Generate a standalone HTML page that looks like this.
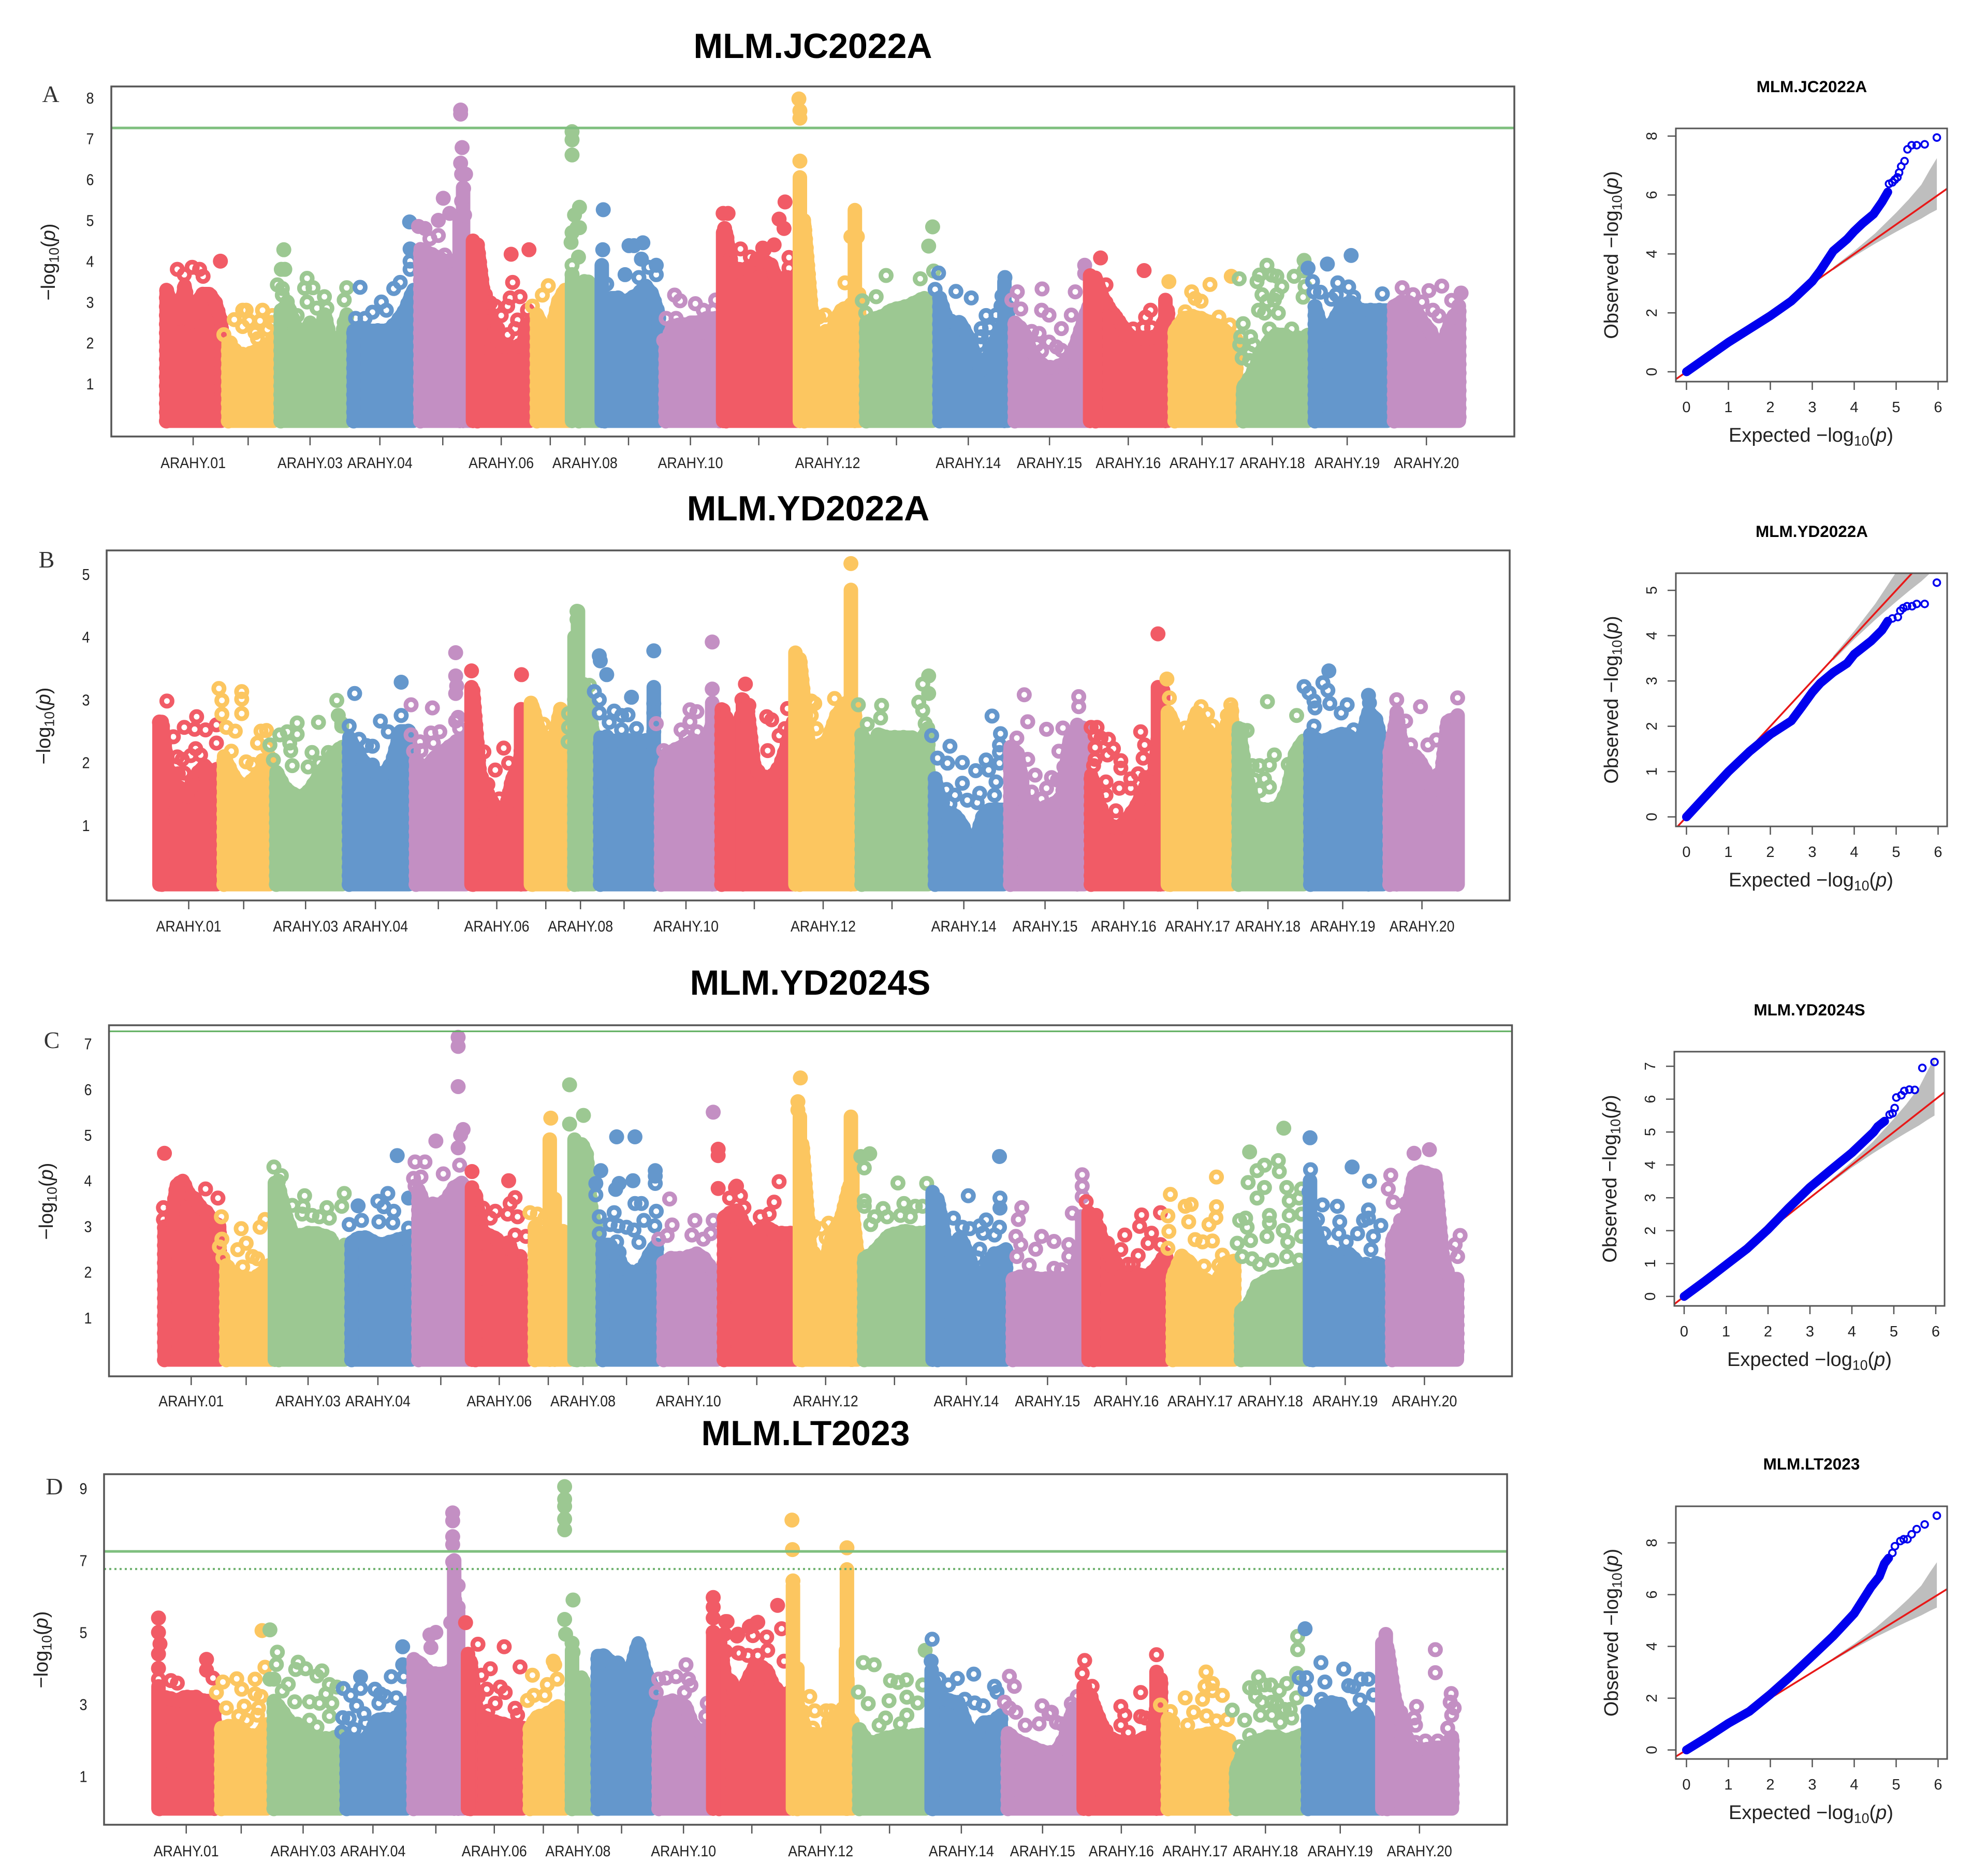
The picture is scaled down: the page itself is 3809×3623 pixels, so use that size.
<!DOCTYPE html>
<html lang="en">
<head>
<meta charset="utf-8">
<title>GWAS Manhattan and QQ plots</title>
<style>
html,body{margin:0;padding:0;background:#fff;}
svg{display:block;}
text{font-family:"Liberation Sans",sans-serif;}
</style>
</head>
<body>
<svg id="figure" xmlns="http://www.w3.org/2000/svg" width="3809" height="3623" viewBox="0 0 3809 3623"></svg>
<script>
/* ---------- shared genome data ---------- */
const chromLabels = ["ARAHY.01","","ARAHY.03","ARAHY.04","","ARAHY.06","","ARAHY.08","","ARAHY.10","","ARAHY.12","","ARAHY.14","ARAHY.15","ARAHY.16","ARAHY.17","ARAHY.18","ARAHY.19","ARAHY.20"];
const chromStartMb = [322,447,553,700,835,950,1070,1155,1207,1330,1452,1610,1735,1883,2035,2198,2358,2496,2641,2801];
const genomeEndMb = 2960;
const chromTickMb = [390,501,626,767,894,1012,1111,1181,1269,1394,1532,1671,1810,1955,2119,2278,2427,2569,2720,2880];
const secondHalfStartMb = 1463;
const chromColors = ["#F15B66","#FCC660","#9CC892","#6497CC","#C38FC3"];

/* ---------- MLM.JC2022A ---------- */
const jcSkyline = [
[3.3,2.9,2.6,3.4,2.5,3.0,3.2,3.2,3.0,2.5],[2.0,1.75,1.7,1.8,1.9,2.1],[2.8,2.9,2.4,1.9,2.5,2.1,2.7,1.9,1.9,2.7],[2.3,2.3,2.3,2.3,2.3,2.5,2.8,3.3],[4.3,4.2,4.1,4.0,4.0,4.1,4.4],
[4.4,3.1,2.7,2.1,1.9,1.9,1.9,2.0,2.5],[2.7,2.3,2.2,3.0,3.3,2.9],[3.2,3.5,3.5,3.2,2.8],[2.9,3.1,3.1,3.0,3.1,3.2,3.4,3.2,2.7],[1.9,2.4,2.45,2.45,2.5,2.5,2.6,2.6,2.6],
[4.7,3.7,3.8,3.8,3.9,4.0,4.0,3.9,3.4,3.6,3.6,3.6],[4.9,2.2,2.2,2.3,2.8,2.9,3.2],[2.5,2.6,2.65,2.8,2.85,2.9,3.0,3.1,3.0],[3.1,2.6,2.5,2.5,2.2,1.8,1.3,1.6,2.0,2.3,2.9],[2.5,2.3,1.8,1.5,1.4,1.4,1.5,1.7,2.3,2.9],
[3.6,3.0,2.7,2.4,2.1,2.1,2.1,2.2,2.8],[2.3,2.6,2.65,2.6,2.5,2.4,2.25,2.1],[0.9,1.2,1.6,2.0,2.2,2.2,2.1,2.0,2.2],[2.9,2.2,2.5,2.9,3.0,2.8,2.8,2.8,2.8],[2.9,3.0,3.0,2.8,2.5,2.3,1.9,2.1,2.6,2.8]];
const jcRings = [
[[358,3.8],[388,3.85],[403,3.8],[372,3.67],[410,3.63]],
[[490,2.8],[497,2.8],[530,2.8],[473,2.57],[503,2.54],[525,2.54],[550,2.67],[548,2.5],[490,2.4],[540,2.33],[515,2.25],[520,2.1],[452,2.2],[465,2.0]],
[[560,3.42],[570,3.33],[620,3.58],[615,3.34],[632,3.35],[700,3.35],[655,3.13],[620,3.0],[695,3.05],[570,3.17],[600,2.67],[630,2.33],[650,2.06],[680,2.1],[695,2.5],[580,3.0],[660,2.85],[640,2.85]],
[[727,3.36],[718,2.6],[737,2.6],[752,2.75],[770,3.0],[780,2.8],[795,3.33],[808,3.48],[828,3.8],[828,4.0]],
[[885,4.63],[868,4.55],[898,4.15]],
[[980,3.18],[990,2.98],[1000,2.9],[1012,2.67],[990,2.52],[1035,3.48],[1030,3.1],[1050,3.13],[1025,2.9],[1045,2.56],[1065,2.8],[1040,2.35],[1005,2.35],[1025,2.2]],
[[1095,3.17],[1107,3.4],[1075,2.9]],
[[1155,3.9],[1155,3.67],[1195,3.1]],
[[1290,3.6],[1310,3.85],[1325,3.67],[1225,3.44]],
[[1362,3.17],[1373,3.03],[1404,2.96],[1420,2.8],[1440,2.8],[1445,3.05],[1345,2.6],[1365,2.6],[1340,2.06],[1350,2.0],[1435,1.7],[1420,1.9]],
[[1475,4.05],[1495,4.3],[1515,4.1],[1540,4.32],[1593,4.09],[1593,3.83],[1528,4.05]],
[[190,2.63],[203,2.68],[205,2.28],[225,2.53],[243,3.47],[205,2.15]],
[[326,3.65],[395,3.57],[306,3.13],[278,3.03],[422,3.76],[285,2.73]],
[[432,3.71],[425,3.31],[467,3.26],[498,3.1],[566,3.6],[560,3.15],[558,2.9],[528,2.67],[548,2.68],[518,2.35],[535,2.38],[560,2.38],[518,2.15],[533,2.12],[515,1.95]],
[[591,3.25],[641,3.32],[708,3.25],[580,3.05],[598,2.83],[640,2.8],[655,2.68],[700,2.68],[680,2.35],[620,2.28],[635,2.23],[630,1.95],[655,2.02],[640,1.8],[670,1.9],[680,1.82]],
[[770,3.42],[770,2.99],[790,2.63],[860,2.8],[850,2.63],[825,2.34],[845,2.37],[862,2.37],[810,2.2]],
[[980,3.43],[943,3.25],[950,3.09],[962,3.02],[930,2.76],[1020,2.44],[998,2.63]],
[[1039,3.57],[1095,3.9],[1080,3.66],[1105,3.66],[1115,3.63],[1150,3.63],[1170,3.76],[1075,3.5],[1125,3.38],[1172,3.38],[1085,3.18],[1115,3.18],[1095,3.02],[1110,3.05],[1168,3.12],[1078,2.8],[1090,2.73],[1118,2.73],[1047,2.47],[1042,2.15],[1062,2.15],[1040,1.95],[1060,1.75],[1068,1.95],[1100,2.34],[1145,2.34],[1158,2.12],[1045,1.63],[1060,1.57]],
[[1238,3.47],[1260,3.37],[1187,3.5],[1190,3.25],[1203,3.24],[1328,3.2],[1225,3.07],[1270,3.12],[1235,3.18]],
[[1368,3.35],[1390,3.18],[1422,3.28],[1448,3.39],[1468,3.04],[1482,2.9],[1408,3.0],[1430,2.8],[1442,2.66],[1475,2.52]]];
const jcDots = [[0,445,4.0],[2,573,4.28],[2,568,3.8],[2,575,3.8],[3,827,4.96],[3,828,4.3],[4,930,7.7],[4,930,7.6],[4,933,6.78],[4,930,6.4],[4,932,6.13],[4,940,6.13],[4,936,5.78],[4,932,5.47],[4,895,5.54],[4,885,5.0],[4,908,5.17],[4,938,5.13],[4,845,4.85],[4,858,4.8],[5,1032,4.17],[5,1068,4.28],[7,1155,7.17],[7,1155,6.97],[7,1155,6.6],[7,1170,5.32],[7,1160,5.13],[7,1165,4.82],[7,1170,4.82],[7,1155,4.7],[7,1153,4.46],[7,1168,4.1],[8,1218,5.26],[8,1217,4.28],[8,1270,4.38],[8,1280,4.38],[8,1298,4.45],[8,1295,4.05],[8,1262,3.67],[8,1325,3.9],[10,1460,5.17],[10,1470,5.17],[10,1463,4.8],[10,1585,5.45],[10,1573,5.03],[10,1583,4.8],[10,1543,4.28],[10,1563,4.4],[11,150,7.97],[11,152,7.68],[11,152,7.5],[11,152,6.45],[11,255,4.6],[11,268,4.6],[12,420,4.84],[12,412,4.37],[14,727,3.9],[14,727,3.7],[15,759,4.08],[15,847,3.77],[16,897,3.5],[16,1023,3.63],[17,1170,4.02],[18,1265,4.14],[18,1217,3.93],[18,1178,3.83],[19,1487,3.22]];
const jcSpikes = [[4,935,5.8],[4,928,5.0],[5,955,4.5],[7,1155,3.6],[8,1215,3.9],[10,1460,4.7],[11,152,6.05],[11,160,5.0],[11,263,5.25],[13,565,3.5],[15,738,3.65],[15,890,3.05]];

/* ---------- MLM.YD2022A ---------- */
const ydaSkyline = [
[2.65,1.85,1.65,1.6,1.45,1.65,1.85,1.95,1.85,1.9],[2.1,1.8,1.6,1.7,1.85,2.1],[1.85,1.6,1.5,1.45,1.55,1.75,1.95,2.15,2.25],[2.4,2.15,1.95,1.85,1.8,2.0,2.5,2.5],[2.05,1.85,2.05,2.15,2.25,2.35,2.35],
[3.15,1.85,1.55,1.35,1.25,1.25,1.75,1.9,2.8],[2.9,2.5,2.35,2.35,2.85,2.45],[3.05,3.25,3.25,2.85,2.45],[2.4,2.35,2.35,2.35,2.35,2.35,2.35,2.35,2.25],[1.85,2.15,2.2,2.25,2.3,2.35,2.25,2.3,2.85],
[2.85,2.65,2.35,2.75,2.85,1.95,1.8,1.75,1.8,1.95,2.25,2.65],[3.65,2.25,2.25,2.35,2.75,2.95,2.9],[2.45,2.2,2.45,2.4,2.4,2.4,2.4,2.3,2.55],[1.75,1.25,1.2,1.15,1.0,0.75,0.8,1.15,1.25,1.25,1.25],[2.25,2.15,1.35,1.3,1.25,1.3,1.35,1.45,2.35,2.55,2.55],
[1.8,1.25,1.0,0.95,1.1,1.3,1.6,1.85,3.15],[2.75,2.35,2.35,2.8,2.55,2.35,2.4,2.85],[2.55,1.75,1.3,1.25,1.25,1.3,1.55,2.15,2.35],[2.45,2.35,2.35,2.4,2.45,2.45,2.35,2.35,2.8,2.7,2.25],[2.15,2.75,2.05,2.15,2.05,1.85,1.55,1.65,2.65,2.7]];
const ydaRings = [
[[337,2.98],[322,2.64],[350,2.41],[372,2.56],[393,2.53],[415,2.52],[397,2.73],[437,2.6],[437,2.31],[395,2.22],[358,2.09],[368,2.05],[385,2.11],[405,2.12],[345,1.84],[360,1.82],[372,1.83],[347,1.69],[347,1.55],[358,1.59],[388,1.7]],
[[442,3.18],[488,3.13],[448,2.99],[488,3.01],[448,2.77],[488,2.78],[457,2.56],[475,2.5],[527,2.5],[538,2.51],[520,2.31],[540,2.24],[497,2.01],[510,1.97],[530,2.03],[467,2.18],[525,1.8]],
[[680,2.99],[690,2.58],[600,2.63],[643,2.64],[565,2.44],[580,2.49],[600,2.45],[585,2.31],[587,2.19],[545,2.28],[630,2.16],[663,2.16],[552,2.04],[622,1.93],[645,1.99],[590,1.95]],
[[716,3.1],[768,2.66],[784,2.49],[810,2.75],[705,2.58],[725,2.37],[740,2.27],[752,2.26],[752,1.96]],
[[830,2.92],[873,2.87],[925,2.72],[920,2.66],[870,2.47],[888,2.49],[830,2.44],[848,2.33],[875,2.31],[928,2.54],[850,2.19],[835,2.18]],
[[977,2.17],[1017,2.23],[1000,1.88],[985,1.65],[1027,1.99],[1008,1.42]],
[[1097,2.61]],
[[1148,2.78],[1148,2.56],[1147,2.33],[1190,3.23],[1195,2.9]],
[[1200,3.13],[1210,3.0],[1320,2.94],[1320,2.79],[1320,2.49],[1240,2.82],[1268,2.76],[1255,2.75],[1230,2.64],[1255,2.52],[1285,2.54],[1225,2.41],[1210,2.79],[1305,2.35],[1288,2.31]],
[[1393,2.84],[1407,2.81],[1393,2.65],[1375,2.52],[1408,2.49],[1385,2.41],[1325,2.62],[1340,2.19],[1350,2.03]],
[[1460,2.83],[1498,3.0],[1512,2.91],[1510,2.65],[1548,2.73],[1558,2.68],[1550,2.19],[1590,2.86],[1573,2.43],[1585,2.54]],
[[175,2.98],[182,2.94],[175,2.75],[185,2.54],[222,3.02]],
[[400,3.25],[392,2.96],[400,2.83],[405,2.62],[270,2.92],[317,2.91],[315,2.71],[288,2.61],[280,2.39]],
[[540,2.74],[557,2.46],[555,2.28],[555,2.16],[455,2.26],[418,2.43],[430,2.07],[450,1.99],[480,2.0],[528,2.04],[507,1.87],[533,1.88],[555,1.99],[548,1.69],[480,1.67],[448,1.57],[465,1.48],[515,1.51],[545,1.48],[440,1.36],[490,1.4],[455,1.34],[510,1.36]],
[[605,3.08],[715,3.05],[715,2.89],[612,2.65],[650,2.53],[683,2.55],[590,2.39],[612,2.05],[675,2.18],[685,1.93],[627,1.8],[660,1.76],[672,1.72],[650,1.59],[640,1.42],[620,1.53]],
[[740,2.56],[752,2.56],[748,2.43],[760,2.39],[775,2.37],[785,2.22],[748,2.24],[773,2.12],[800,2.03],[800,1.91],[748,2.05],[745,1.95],[770,1.69],[770,1.48],[820,1.74],[835,1.82],[850,1.76],[840,2.49],[848,2.28],[845,2.07],[797,1.59],[820,1.59],[850,1.61],[760,1.27],[790,1.23]],
[[898,3.03],[962,2.89],[930,2.55],[958,2.68],[985,2.58],[1022,2.92],[1015,2.75],[975,2.77]],
[[1096,2.97],[1155,2.75],[1055,2.51],[1045,2.52],[1040,2.18],[1110,2.12],[1080,1.95],[1100,1.96],[1065,1.95],[1138,1.97],[1070,1.72],[1090,1.74],[1060,1.57],[1080,1.55],[1065,1.44],[1100,1.61],[1060,1.21]],
[[1208,3.27],[1218,3.15],[1170,3.21],[1180,3.11],[1190,2.98],[1192,2.87],[1222,2.94],[1257,2.92],[1245,2.79],[1190,2.58],[1270,2.52]],
[[1357,3.0],[1405,2.89],[1480,3.03],[1375,2.66],[1460,2.63],[1437,2.36],[1420,2.28],[1465,2.39],[1465,2.18],[1450,1.99],[1440,1.8],[1415,1.57],[1440,1.63],[1385,2.28],[1400,1.44],[1430,1.27]]];
const ydaDots = [[2,683,2.75],[2,690,2.62],[3,810,3.28],[4,920,3.75],[4,920,3.38],[4,922,3.22],[4,920,3.1],[5,952,3.46],[5,1053,3.4],[7,1165,4.41],[7,1165,4.28],[8,1210,3.7],[8,1212,3.62],[8,1225,3.4],[8,1320,3.78],[8,1275,3.04],[9,1438,3.92],[9,1438,3.17],[10,1505,3.25],[11,255,5.17],[12,412,3.38],[12,412,3.1],[15,875,4.05],[16,893,3.33],[18,1220,3.46],[18,1300,3.07],[18,1302,2.95]];
const ydaSpikes = [[0,322,2.65],[5,952,3.2],[5,1052,2.85],[6,1072,2.95],[7,1160,4.0],[7,1167,4.41],[8,1320,3.2],[9,1438,2.95],[10,1500,3.0],[11,143,3.75],[11,255,4.75],[14,712,2.6],[15,875,3.2],[15,880,2.75],[16,895,2.8],[18,1300,2.8],[19,1357,2.8],[19,1480,2.75]];

/* ---------- MLM.YD2024S ---------- */
const ydsSkyline = [
[3.0,3.0,3.9,4.0,3.7,3.6,3.4,3.3,3.1,3.0],[2.15,1.9,1.85,1.85,2.0,2.1],[3.85,3.2,2.8,2.8,2.85,2.85,2.8,2.75,2.4,2.6],[2.65,2.75,2.75,2.65,2.6,2.65,2.7,2.75,2.8],[3.8,3.4,3.5,3.45,3.6,3.85,3.95,3.8],
[3.7,2.9,2.8,2.75,2.6,2.65,2.3,2.2,2.1],[3.0,2.7,2.6,2.8,2.9,2.8],[4.7,4.8,4.6,3.4,3.0],[2.6,2.6,2.4,2.1,2.0,2.0,2.1,2.4,2.6],[2.2,2.3,2.3,2.3,2.35,2.4,2.3,2.1,1.9],
[3.2,3.3,3.35,3.05,2.85,2.85,3.0,2.95,2.85,2.85,2.85,2.85],[4.8,2.5,2.3,2.3,2.9,3.2,3.9,2.4],[2.3,2.4,2.6,2.8,2.85,2.9,2.85,2.85,2.9],[3.6,2.7,2.6,2.75,2.4,1.9,1.95,2.3,2.4,2.5],[1.85,1.9,1.9,1.85,1.85,1.85,1.85,1.9,2.3,2.9],
[3.2,2.7,2.3,2.0,1.95,1.95,1.9,2.1,2.4],[1.9,2.35,2.2,1.9,1.8,1.75,2.2,2.25],[1.15,1.3,1.7,1.8,1.9,1.9,1.95,2.0,2.0],[3.1,2.5,2.4,2.35,2.4,2.2,2.0,2.2,2.1],[2.7,3.0,3.2,4.1,4.2,4.15,4.1,2.3,1.85,1.85]];
const ydsRings = [
[[330,3.41],[330,3.15],[380,3.73],[415,3.82],[440,3.62]],
[[447,3.21],[448,2.72],[443,2.55],[450,2.31],[487,2.95],[480,2.49],[497,2.63],[525,2.98],[535,3.15],[510,2.34],[520,2.29],[490,2.11],[543,2.14]],
[[553,4.3],[568,4.11],[562,3.99],[615,3.67],[695,3.72],[590,3.46],[612,3.44],[660,3.41],[690,3.44],[610,3.27],[630,3.24],[645,3.21],[665,3.18]],
[[783,3.72],[763,3.55],[775,3.43],[795,3.33],[793,3.08],[705,3.04],[730,3.13],[765,3.1],[825,2.96]],
[[838,4.41],[858,4.41],[928,4.34],[895,4.15],[850,4.08],[835,4.05],[838,3.88]],
[[1040,3.63],[1030,3.5],[975,3.4],[1000,3.33],[965,3.18],[990,3.18],[1045,3.21],[1025,3.27],[1040,2.81],[1030,2.52],[1062,2.78],[1050,2.34]],
[[1070,3.3],[1085,3.27],[1100,3.18]],
[],
[[1323,3.94],[1203,3.69],[1282,3.5],[1295,3.5],[1325,3.33],[1240,3.3],[1300,3.13],[1232,3.04],[1248,3.01],[1265,2.98],[1280,2.92],[1210,3.21],[1210,2.84],[1290,2.65],[1245,2.66],[1322,3.01],[1225,2.43],[1250,2.43]],
[[1352,3.6],[1357,3.03],[1347,2.8],[1403,3.13],[1440,3.13],[1435,2.84],[1420,2.72],[1397,2.81],[1330,2.72]],
[[1473,3.62],[1495,3.67],[1502,3.41],[1535,3.21],[1553,3.27],[1485,3.85],[1573,3.98],[1563,3.53]],
[[180,3.0],[195,2.95],[210,3.07],[175,2.86],[205,2.75]],
[[282,4.28],[350,3.95],[408,3.94],[282,3.56],[282,3.44],[362,3.5],[385,3.44],[400,3.44],[320,3.39],[328,3.21],[355,3.24],[375,3.21],[303,3.21],[295,3.04]],
[[492,3.67],[556,3.62],[462,3.18],[440,3.07],[480,2.98],[495,2.95],[528,3.14],[515,3.01],[522,2.85],[545,2.81],[555,2.98],[515,2.5],[545,2.4],[510,2.31]],
[[722,4.13],[722,3.88],[722,3.65],[600,3.41],[593,3.15],[588,2.78],[598,2.6],[640,2.78],[665,2.67],[628,2.5],[695,2.6],[702,3.29],[720,3.21],[695,2.34],[590,2.34],[615,2.15],[665,2.08],[680,2.05]],
[[730,3.54],[750,3.24],[757,2.94],[842,3.25],[880,3.3],[808,2.81],[838,3.0],[862,2.85],[773,2.63],[855,2.63],[800,2.49],[835,2.36],[880,2.6],[790,2.2],[825,2.17],[775,2.05],[815,2.17]],
[[993,4.08],[900,3.7],[930,3.44],[942,3.48],[993,3.43],[895,3.23],[937,3.1],[978,3.04],[992,3.19],[897,2.89],[950,2.71],[965,2.66],[985,2.68],[895,2.52],[968,2.13],[998,2.15],[1005,2.37]],
[[1118,4.44],[1090,4.34],[1075,4.22],[1120,4.2],[1057,3.96],[1090,3.85],[1135,3.85],[1165,3.82],[1075,3.62],[1140,3.56],[1160,3.62],[1165,3.27],[1052,3.18],[1100,3.24],[1140,3.24],[1040,3.13],[1055,2.98],[1100,3.07],[1128,2.91],[1095,2.78],[1062,2.69],[1165,2.78],[1137,2.66],[1035,2.63],[1045,2.34],[1065,2.29],[1080,2.17],[1105,2.26],[1135,2.34],[1160,2.26]],
[[1183,4.24],[1302,3.99],[1180,3.76],[1207,3.47],[1237,3.44],[1300,3.36],[1197,3.15],[1242,3.1],[1300,3.18],[1325,3.02],[1240,2.84],[1210,2.84],[1278,2.84],[1255,2.66],[1310,2.78],[1290,3.13],[1225,2.43],[1250,2.43],[1305,2.49],[1295,2.17]],
[[1345,4.12],[1340,3.82],[1350,3.53],[1375,3.5],[1365,3.13],[1485,2.8],[1475,2.6],[1465,2.43],[1480,2.34]]];
const ydsDots = [[0,332,4.6],[3,802,4.55],[3,723,3.45],[3,825,3.62],[4,925,7.14],[4,925,6.94],[4,925,6.06],[4,935,5.12],[4,930,5.0],[4,880,4.87],[4,925,4.72],[5,953,4.2],[5,1027,4.0],[6,1112,5.37],[7,1150,6.1],[7,1178,5.43],[7,1150,5.24],[8,1245,4.96],[8,1282,4.96],[8,1213,4.22],[8,1278,4.0],[8,1203,3.94],[8,1250,3.94],[8,1243,3.81],[8,1323,4.22],[8,1323,4.1],[9,1440,5.5],[10,1450,4.69],[10,1450,4.55],[10,1450,3.83],[10,1487,3.88],[11,153,6.25],[11,148,5.73],[11,148,5.55],[12,293,4.59],[12,275,4.53],[13,555,4.53],[13,556,3.4],[17,1129,5.15],[17,1060,4.63],[18,1182,4.94],[18,1267,4.3],[19,1392,4.6],[19,1423,4.68]];
const ydsSpikes = [[2,555,3.95],[5,953,3.85],[6,1110,4.9],[6,1120,3.6],[7,1160,4.9],[7,1180,4.6],[11,152,5.4],[11,255,5.4],[11,258,4.5],[13,420,3.75],[14,722,3.2],[15,735,3.3],[18,1182,4.0]];

/* ---------- MLM.LT2023 ---------- */
const ltSkyline = [
[3.2,3.2,3.15,3.1,3.2,3.2,3.2,3.1,3.1,2.9],[2.35,2.4,2.3,2.15,2.1,2.45],[3.1,2.85,2.55,2.3,2.25,2.15,2.05,2.05,2.05,2.15],[2.05,2.0,1.95,2.15,2.55,2.6,2.55,2.7,3.05],[4.25,4.15,3.95,3.85,3.85,3.85,3.95,4.05,3.95],
[4.2,2.75,2.65,2.55,2.5,2.45,2.4,2.35,2.35],[2.35,2.65,2.7,2.8,2.95,2.85],[3.55,3.7,3.75,3.45,2.85],[4.35,4.35,4.15,4.15,3.8,4.05,4.7,3.95,3.55],[2.45,3.05,3.1,3.05,2.95,2.45,2.25,2.3,2.35],
[4.85,3.75,3.65,3.15,3.35,3.75,4.05,4.05,3.95,3.55,3.35,3.25,3.35],[3.0,2.2,2.15,2.15,2.5,2.9,2.5],[2.3,1.95,1.95,2.05,2.1,2.15,2.1,2.15,2.15],[3.7,3.2,3.1,3.05,2.4,2.1,2.5,2.5,2.7],[2.2,2.0,1.9,1.8,1.7,1.65,1.7,2.1,2.9,2.6],
[3.3,2.7,2.1,2.0,1.9,1.9,2.05,2.1,3.7],[2.6,2.1,2.1,2.1,2.15,2.2,2.1,2.0],[1.2,1.7,1.95,2.0,2.1,2.1,2.0,2.05,2.15],[2.8,2.6,3.0,3.05,3.0,2.5,2.65,2.8,2.4,2.2],[4.6,3.2,2.5,1.9,1.75,1.75,1.75,1.8,1.8,2.1]];
const ltRings = [
[[345,3.66],[358,3.59],[320,3.7],[430,3.73]],
[[450,3.62],[478,3.71],[515,3.7],[535,4.03],[488,3.42],[515,3.29],[527,3.22],[437,3.33],[457,2.9],[493,2.95],[522,2.9],[482,2.67],[498,2.56],[520,2.7]],
[[560,4.45],[558,4.11],[582,3.56],[570,3.37],[602,4.17],[617,3.99],[597,3.97],[650,3.93],[640,3.79],[665,3.55],[658,3.29],[680,3.48],[595,3.07],[625,3.07],[645,3.03],[670,3.03],[665,2.67],[625,2.56],[600,2.45],[640,2.37]],
[[728,3.44],[790,3.77],[815,3.77],[693,3.44],[708,3.25],[757,3.42],[768,3.29],[778,3.22],[800,3.18],[720,2.96],[735,2.74],[692,2.63],[705,2.61],[765,3.03],[738,2.48],[690,2.23],[715,2.3]],
[],
[[965,4.67],[1018,4.6],[990,3.99],[972,3.81],[1050,4.04],[1010,3.48],[983,3.42],[1020,3.33],[965,3.22],[1045,2.7],[1000,3.03],[985,2.81],[1040,2.89]],
[[1075,3.81],[1125,3.7],[1105,3.55],[1100,3.25],[1078,3.25],[1065,3.11]],
[],
[],
[[1385,4.1],[1365,3.77],[1345,3.73],[1330,3.7],[1390,3.7],[1395,3.53],[1325,3.33],[1382,3.33],[1428,3.03],[1425,2.67]],
[[1465,4.47],[1490,4.43],[1510,4.36],[1530,4.36],[1550,4.5],[1548,4.87],[1520,4.91],[1578,5.1],[1528,5.27],[1513,5.15],[1488,4.9],[1468,5.3],[1493,4.42],[1583,4.2]],
[[172,3.22],[182,2.82],[205,2.82],[215,2.82],[210,2.5],[178,2.34],[160,2.78]],
[[280,4.16],[302,4.1],[335,3.66],[350,3.61],[367,3.68],[400,3.54],[270,3.34],[332,3.1],[368,3.2],[390,3.04],[290,3.02],[368,2.7],[325,2.62],[355,2.46],[312,2.42]],
[[419,4.81],[433,3.7],[452,3.54],[470,3.72],[503,3.84],[485,3.14],[505,3.04],[522,2.96],[545,3.5],[550,3.34]],
[[575,3.78],[585,3.5],[641,2.96],[565,3.06],[575,2.9],[588,2.78],[660,2.78],[700,3.02],[712,3.22],[607,2.42],[635,2.46],[655,2.74],[670,2.5],[680,2.46]],
[[727,4.22],[722,3.86],[742,3.5],[745,2.98],[840,3.33],[872,4.38],[800,2.94],[808,2.7],[840,2.66],[850,2.62],[800,2.42],[770,2.26],[815,2.22]],
[[972,3.9],[970,3.5],[985,3.58],[985,3.38],[930,3.18],[965,3.14],[1005,3.25],[900,2.8],[947,2.78],[973,2.68],[993,2.54],[905,2.5],[1015,2.58],[935,2.42],[880,2.98]],
[[1157,4.89],[1157,4.52],[1155,3.86],[1078,3.76],[1060,3.46],[1072,3.46],[1090,3.54],[1103,3.54],[1135,3.58],[1072,3.22],[1120,3.38],[1085,3.06],[1105,3.06],[1025,2.84],[1050,2.56],[1130,2.86],[1142,2.86],[1082,2.7],[1105,2.7],[1145,2.62],[1122,2.5],[1060,2.14],[1040,1.82],[1155,3.18],[1115,3.02]],
[[1204,4.16],[1250,3.98],[1160,3.74],[1175,3.74],[1172,3.42],[1212,3.62],[1260,3.52],[1270,3.49],[1285,3.7],[1300,3.7],[1310,3.26],[1283,3.12],[1205,3.14]],
[[1435,4.52],[1435,3.88],[1467,3.3],[1465,3.06],[1473,2.9],[1468,2.7],[1460,2.34],[1395,1.94],[1415,1.98],[1440,1.98],[1397,2.94],[1392,2.62],[1395,2.42],[1365,2.78]]];
const ltDots = [[0,320,5.4],[0,320,5.0],[0,323,4.68],[0,320,4.4],[0,320,4.0],[0,417,4.25],[0,417,3.95],[1,529,5.05],[2,545,5.07],[2,545,3.7],[2,553,3.7],[3,728,3.76],[3,813,4.6],[3,813,4.1],[4,914,8.32],[4,914,8.1],[4,914,7.66],[4,914,7.44],[4,914,6.96],[4,918,6.4],[4,925,6.3],[4,918,5.9],[4,925,5.7],[4,910,5.27],[4,920,4.95],[4,870,4.58],[4,868,4.93],[4,880,5.0],[5,940,5.27],[6,1117,4.2],[6,1120,4.1],[7,1140,9.05],[7,1140,8.7],[7,1140,8.5],[7,1140,8.15],[7,1140,7.85],[7,1157,5.9],[7,1140,5.36],[7,1142,4.95],[7,1155,4.7],[7,1157,4.45],[10,1440,5.97],[10,1440,5.7],[10,1440,5.4],[10,1465,5.3],[10,1440,5.0],[10,1463,4.95],[10,1490,4.95],[10,1515,5.17],[10,1530,5.28],[10,1570,5.75],[11,136,8.12],[11,137,7.3],[11,138,6.43],[11,247,7.35],[12,405,4.5],[13,417,4.2],[15,727,3.5],[15,740,3.2],[18,1172,5.1]];
const ltSpikes = [[0,320,3.5],[4,917,7.0],[4,925,5.6],[5,945,4.4],[7,1155,4.5],[10,1440,5.0],[11,138,6.3],[11,147,4.0],[11,247,6.75],[11,245,4.5],[11,248,3.7],[13,418,3.95],[15,725,3.5],[15,872,3.9],[19,1335,4.95],[19,1328,4.7]];

/* ---------- QQ data ---------- */
const ciExpected = [3.5,4,4.5,5,5.3,5.6,5.8,5.97];
const ciUpper = [3.55,4.1,4.7,5.4,5.85,6.35,6.85,7.25];
const ciLower = [3.45,3.92,4.35,4.75,4.98,5.2,5.37,5.5];
const qqExpectedTicks = [0,1,2,3,4,5,6];

const qqJcExpected = [0,0.5,1,1.5,2,2.5,3,3.19,3.5,3.83,4,4.2,4.46,4.66,4.8];
const qqJcObserved = [0,0.5,1,1.45,1.9,2.4,3.07,3.43,4.1,4.5,4.77,5.04,5.35,5.76,6.1];
const qqJcTailExpected = [4.83,4.91,4.97,5.03,5.07,5.12,5.2,5.27,5.37,5.49,5.68,5.97];
const qqJcTailObserved = [6.38,6.43,6.52,6.6,6.76,6.97,7.15,7.55,7.69,7.69,7.72,7.95];

const qqYdaExpected = [0,0.5,1,1.5,2,2.5,2.75,3,3.19,3.5,3.83,4,4.4,4.66,4.8];
const qqYdaObserved = [0,0.5,1,1.44,1.82,2.12,2.43,2.75,2.95,3.19,3.39,3.59,3.88,4.12,4.32];
const qqYdaTailExpected = [4.91,5.04,5.1,5.17,5.26,5.38,5.49,5.68,5.97];
const qqYdaTailObserved = [4.38,4.41,4.55,4.61,4.65,4.65,4.7,4.7,5.17];

const qqYdsExpected = [0,0.5,1,1.5,2,2.5,3,3.5,4,4.52,4.62,4.78];
const qqYdsObserved = [0,0.47,0.96,1.45,2.04,2.7,3.32,3.85,4.37,5.0,5.17,5.33];
const qqYdsTailExpected = [4.9,4.97,5.02,5.06,5.18,5.25,5.37,5.5,5.68,5.97];
const qqYdsTailObserved = [5.53,5.57,5.73,6.05,6.12,6.25,6.29,6.28,6.95,7.13];

const qqLtExpected = [0,0.5,1,1.5,2,2.5,3,3.5,4,4.4,4.6,4.72,4.82];
const qqLtObserved = [0,0.5,1.03,1.49,2.15,2.87,3.63,4.4,5.27,6.29,6.7,7.2,7.41];
const qqLtTailExpected = [4.91,4.97,5.1,5.18,5.27,5.37,5.49,5.68,5.97];
const qqLtTailObserved = [7.61,7.87,8.07,8.14,8.14,8.33,8.53,8.71,9.05];

/* ---------- panel layout ---------- */
const panels = [
 {id:"jc2022a",title:"MLM.JC2022A",titleX:1570,titleY:112,letter:"A",letterX:98,letterY:197,boxLeft:215,top:167,bottom:843,y0:820,unit:78.9,shift:0,ticks:[1,2,3,4,5,6,7,8],tickX:174,yTitleX:93,yTitleY:506,labelY:903,solid:7.26,dotted:null,solidW:5,solidColor:"#7FBF7F",sky:jcSkyline,rings:jcRings,dots:jcDots,spikes:jcSpikes},
 {id:"yd2022a",title:"MLM.YD2022A",titleX:1561,titleY:1005,letter:"B",letterX:90,letterY:1096,boxLeft:206,top:1063,bottom:1739,y0:1715,unit:121.2,shift:9,ticks:[1,2,3,4,5],tickX:166,yTitleX:84,yTitleY:1402,labelY:1798,solid:null,dotted:null,solidW:0,solidColor:"#7FBF7F",sky:ydaSkyline,rings:ydaRings,dots:ydaDots,spikes:ydaSpikes},
 {id:"yd2024s",title:"MLM.YD2024S",titleX:1565,titleY:1921,letter:"C",letterX:100,letterY:2024,boxLeft:210.5,top:1980,bottom:2658,y0:2633,unit:88.2,shift:4,ticks:[1,2,3,4,5,6,7],tickX:170,yTitleX:89,yTitleY:2320,labelY:2715,solid:7.27,dotted:null,solidW:3,solidColor:"#5DAE5D",sky:ydsSkyline,rings:ydsRings,dots:ydsDots,spikes:ydsSpikes},
 {id:"lt2023",title:"MLM.LT2023",titleX:1556,titleY:2791,letter:"D",letterX:105,letterY:2886,boxLeft:201,top:2847,bottom:3524,y0:3500,unit:69.5,shift:14,ticks:[1,3,5,7,9],tickX:161,yTitleX:79,yTitleY:3186,labelY:3584,solid:7.25,dotted:6.76,solidW:5,solidColor:"#7FBF7F",sky:ltSkyline,rings:ltRings,dots:ltDots,spikes:ltSpikes}
];
const qqPanels = [
 {id:"jc2022a",title:"MLM.JC2022A",titleX:3499.5,titleY:178,left:3237,right:3761,top:248,bottom:737,x0:3257.5,y0:718,unitY:56.9,yTicks:[0,2,4,6,8],exp:qqJcExpected,obs:qqJcObserved,tailExp:qqJcTailExpected,tailObs:qqJcTailObserved},
 {id:"yd2022a",title:"MLM.YD2022A",titleX:3499.5,titleY:1037,left:3237,right:3761,top:1107,bottom:1596,x0:3257.5,y0:1577.6,unitY:87.5,yTicks:[0,1,2,3,4,5],exp:qqYdaExpected,obs:qqYdaObserved,tailExp:qqYdaTailExpected,tailObs:qqYdaTailObserved},
 {id:"yd2024s",title:"MLM.YD2024S",titleX:3495,titleY:1961,left:3234,right:3756,top:2031,bottom:2522,x0:3253,y0:2503.7,unitY:63.5,yTicks:[0,1,2,3,4,5,6,7],exp:qqYdsExpected,obs:qqYdsObserved,tailExp:qqYdsTailExpected,tailObs:qqYdsTailObserved},
 {id:"lt2023",title:"MLM.LT2023",titleX:3499,titleY:2838,left:3237,right:3761,top:2909,bottom:3397,x0:3257.5,y0:3379.6,unitY:50,yTicks:[0,2,4,6,8],exp:qqLtExpected,obs:qqLtObserved,tailExp:qqLtTailExpected,tailObs:qqLtTailObserved}
];

/* ---------- helpers ---------- */
const NS = "http://www.w3.org/2000/svg";
const fig = document.getElementById("figure");
const MB_PER_PX = 1.0453;
const POINT_R = 14;
const BASE_LIFT = 7;

function make(tag, attrs, parent) {
  const node = document.createElementNS(NS, tag);
  for (const k in attrs) node.setAttribute(k, attrs[k]);
  (parent || fig).appendChild(node);
  return node;
}
function sub(parent, txt, attrs) {
  const t = document.createElementNS(NS, "tspan");
  for (const k in (attrs || {})) t.setAttribute(k, attrs[k]);
  t.textContent = txt;
  parent.appendChild(t);
  return t;
}
function addLogLabel(textNode, prefix, baseSize) {
  sub(textNode, prefix + "\u2212log");
  sub(textNode, "10", {"font-size": baseSize * 0.7, dy: baseSize * 0.2});
  sub(textNode, "(", {dy: -baseSize * 0.2});
  sub(textNode, "p", {"font-style": "italic"});
  sub(textNode, ")");
}

/* ---------- Manhattan panels ---------- */
panels.forEach(function (p) {
  const xData = function (chrom, pos) { return (pos + (chrom >= 11 ? secondHalfStartMb : 0)) / MB_PER_PX; };
  const xAxis = function (mb) { return (mb - p.shift) / MB_PER_PX; };
  const yAxis = function (v) { return p.y0 - v * p.unit; };
  const boxRight = p.boxLeft + 2710;
  const baseY = p.y0 - BASE_LIFT;

  const g = make("g", {});
  
  

  const title = make("text", {x: p.titleX, y: p.titleY, "text-anchor": "middle", "font-size": 68, "font-weight": "bold", fill: "#000"}, g);
  title.textContent = p.title;
  
  

  const letter = make("text", {x: p.letterX, y: p.letterY, "text-anchor": "middle", "font-size": 46, fill: "#333"}, g);
  letter.style.fontFamily = '"Liberation Serif",serif';
  letter.textContent = p.letter;
  
  

  chromStartMb.forEach(function (start, c) {
    const color = chromColors[c % 5];
    const chromG = make("g", {}, g);
    
    

    const next = c < 19 ? chromStartMb[c + 1] : genomeEndMb - 14;
    const first = start + 14;
    const vals = p.sky[c];
    let d = "M" + xAxis(first).toFixed(1) + " " + baseY;
    vals.forEach(function (v, j) {
      const mb = first + (next - first) * j / (vals.length - 1);
      d += "L" + xAxis(mb).toFixed(1) + " " + yAxis(v).toFixed(1);
    });
    d += "L" + xAxis(next).toFixed(1) + " " + baseY;
    const mass = make("path", {d: d + "Z", fill: color, stroke: color, "stroke-width": POINT_R * 2 - 1, "stroke-linejoin": "round"}, chromG);
    
    

    const edge = make("path", {d: d, fill: "none", stroke: color, "stroke-width": POINT_R * 2 + 1, "stroke-linecap": "round", "stroke-dasharray": "0 17"}, chromG);
    
    

    p.spikes.filter(function (s) { return s[0] === c; }).forEach(function (s) {
      const x = xData(c, s[1]);
      const spike = make("line", {x1: x, x2: x, y1: baseY, y2: yAxis(s[2]), stroke: color, "stroke-width": POINT_R * 2, "stroke-linecap": "round"}, chromG);
      
      
    });

    p.rings[c].forEach(function (r) {
      const ring = make("circle", {cx: xData(c, r[0]), cy: yAxis(r[1]), r: 10, fill: "none", stroke: color, "stroke-width": 9}, chromG);
      
      
    });

    p.dots.filter(function (s) { return s[0] === c; }).forEach(function (s) {
      const dot = make("circle", {cx: xData(c, s[1]), cy: yAxis(s[2]), r: POINT_R + 0.5, fill: color}, chromG);
      
      
    });
  });

  if (p.solid !== null) {
    const line = make("line", {x1: p.boxLeft, x2: boxRight, y1: yAxis(p.solid), y2: yAxis(p.solid), stroke: p.solidColor, "stroke-width": p.solidW}, g);
    
    
  }
  if (p.dotted !== null) {
    const dotted = make("line", {x1: p.boxLeft, x2: boxRight, y1: yAxis(p.dotted), y2: yAxis(p.dotted), stroke: "#6FB26F", "stroke-width": 4, "stroke-dasharray": "4 6"}, g);
    
    
  }

  const box = make("rect", {x: p.boxLeft, y: p.top, width: 2710, height: p.bottom - p.top, fill: "none", stroke: "#555", "stroke-width": 3.5}, g);
  
  

  p.ticks.forEach(function (t) {
    const lab = make("text", {x: p.tickX, y: yAxis(t) + 11, "text-anchor": "middle", "font-size": 31, fill: "#222", textLength: 15, lengthAdjust: "spacingAndGlyphs"}, g);
    lab.textContent = t;
    
    
  });

  chromTickMb.forEach(function (mb, c) {
    const x = xAxis(mb);
    const tick = make("line", {x1: x, x2: x, y1: p.bottom, y2: p.bottom + 17, stroke: "#555", "stroke-width": 2.5}, g);
    
    
    if (chromLabels[c]) {
      const lab = make("text", {x: x, y: p.labelY + 1, "text-anchor": "middle", "font-size": 30, fill: "#222", textLength: 126, lengthAdjust: "spacingAndGlyphs"}, g);
      lab.textContent = chromLabels[c];
      
      
    }
  });

  const yt = make("text", {x: 0, y: 0, transform: "translate(" + (p.yTitleX + 13) + " " + p.yTitleY + ") rotate(-90)", "text-anchor": "middle", "font-size": 38, fill: "#222"}, g);
  addLogLabel(yt, "", 38);
  
  
});

/* ---------- QQ panels ---------- */
qqPanels.forEach(function (q) {
  const xE = function (v) { return q.x0 + v * 81; };
  const yO = function (v) { return q.y0 - v * q.unitY; };

  const g = make("g", {});
  
  

  const clip = make("clipPath", {id: "clip-" + q.id}, g);
  make("rect", {x: q.left, y: q.top, width: q.right - q.left, height: q.bottom - q.top}, clip);
  const plot = make("g", {"clip-path": "url(#clip-" + q.id + ")"}, g);

  const title = make("text", {x: q.titleX, y: q.titleY, "text-anchor": "middle", "font-size": 31.5, "font-weight": "bold", fill: "#000"}, g);
  title.textContent = q.title;
  
  

  let band = "";
  ciExpected.forEach(function (e, i) { band += (i ? "L" : "M") + xE(e).toFixed(1) + " " + yO(ciUpper[i]).toFixed(1); });
  for (let i = ciExpected.length - 1; i >= 0; i--) band += "L" + xE(ciExpected[i]).toFixed(1) + " " + yO(ciLower[i]).toFixed(1);
  const ci = make("path", {d: band + "Z", fill: "#BEBEBE"}, plot);
  
  

  const ref = make("line", {x1: xE(-1), y1: yO(-1), x2: xE(10), y2: yO(10), stroke: "#E81818", "stroke-width": 3.5}, plot);
  
  

  const pts = q.exp.map(function (e, i) { return xE(e).toFixed(1) + "," + yO(q.obs[i]).toFixed(1); }).join(" ");
  const dense = make("polyline", {points: pts, fill: "none", stroke: "#0000EE", "stroke-width": 17, "stroke-linecap": "round", "stroke-linejoin": "round"}, plot);
  
  

  q.tailExp.forEach(function (e, i) {
    const c = make("circle", {cx: xE(e), cy: yO(q.tailObs[i]), r: 6.5, fill: "none", stroke: "#0000EE", "stroke-width": 3.5}, plot);
    
    
  });

  const frame = make("rect", {x: q.left, y: q.top, width: q.right - q.left, height: q.bottom - q.top, fill: "none", stroke: "#555", "stroke-width": 3}, g);
  
  

  qqExpectedTicks.forEach(function (t) {
    const x = xE(t);
    const tick = make("line", {x1: x, x2: x, y1: q.bottom, y2: q.bottom + 16, stroke: "#555", "stroke-width": 2.5}, g);
    
    
    const lab = make("text", {x: x, y: q.bottom + 59, "text-anchor": "middle", "font-size": 29, fill: "#222"}, g);
    lab.textContent = t;
    
    
  });
  q.yTicks.forEach(function (t) {
    const y = yO(t);
    const tick = make("line", {x1: q.left, x2: q.left - 16, y1: y, y2: y, stroke: "#555", "stroke-width": 2.5}, g);
    
    
    const lab = make("text", {x: 0, y: 0, transform: "translate(" + (q.left - 37) + " " + y + ") rotate(-90)", "text-anchor": "middle", "font-size": 29, fill: "#222"}, g);
    lab.textContent = t;
    
    
  });

  const xl = make("text", {x: q.left + 261, y: q.bottom + 116, "text-anchor": "middle", "font-size": 38, fill: "#222", "xml:space": "preserve"}, g);
  addLogLabel(xl, "Expected  ", 38);
  
  

  const yl = make("text", {x: 0, y: 0, transform: "translate(" + (q.left - 112) + " " + ((q.top + q.bottom) / 2) + ") rotate(-90)", "text-anchor": "middle", "font-size": 38, fill: "#222", "xml:space": "preserve"}, g);
  addLogLabel(yl, "Observed  ", 38);
  
  
});
</script>
</body>
</html>
